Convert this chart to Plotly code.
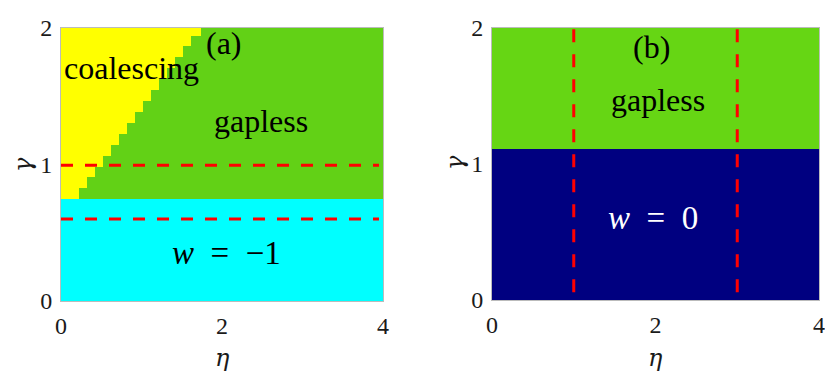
import plotly.graph_objects as go

# ---------------- data ----------------
# panel (a): phase regions
gamma_gap_a = 0.745          # boundary between w=-1 (below) and upper regions
row_height_a = 0.08          # gamma height of each staircase row
boundary_eta_a = [0.22, 0.32, 0.42, 0.52, 0.62, 0.72, 0.82, 0.92,
                  1.02, 1.12, 1.22, 1.32, 1.42, 1.52, 1.62, 1.74]
dash_gamma_a = [0.995, 0.60]
# panel (b)
gamma_gap_b = 1.11
dash_eta_b = [1.0, 3.0]

eta_range = [0, 4]
gamma_range = [0, 2]
x_ticks = [0, 2, 4]
y_ticks = [0, 1, 2]

CYAN, YELLOW, GREEN_A = "#00FFFF", "#FFFF00", "#62D116"
NAVY, GREEN_B = "#000080", "#66D614"
RED = "#FF0000"

# ---------------- build panel (a) grid ----------------
x_edges = [0.0] + boundary_eta_a + [4.0]
y_edges = [0.0, gamma_gap_a]
for i in range(len(boundary_eta_a)):
    y_edges.append(min(2.0, gamma_gap_a + row_height_a * (i + 1)))
z_a = [[0] * (len(x_edges) - 1)]  # cyan row
for be in boundary_eta_a:
    row = []
    for j in range(len(x_edges) - 1):
        xc = 0.5 * (x_edges[j] + x_edges[j + 1])
        row.append(1 if xc < be else 2)
    z_a.append(row)

cs_a = [[0, CYAN], [0.3333, CYAN], [0.3334, YELLOW], [0.6666, YELLOW],
        [0.6667, GREEN_A], [1, GREEN_A]]
cs_b = [[0, NAVY], [0.5, NAVY], [0.5001, GREEN_B], [1, GREEN_B]]

fig = go.Figure()
fig.add_trace(go.Heatmap(x=x_edges, y=y_edges, z=z_a, zmin=0, zmax=2,
                         colorscale=cs_a, showscale=False,
                         xaxis="x", yaxis="y", hoverinfo="skip"))
fig.add_trace(go.Heatmap(x=[0, 4], y=[0, gamma_gap_b, 2], z=[[0], [1]],
                         zmin=0, zmax=1, colorscale=cs_b, showscale=False,
                         xaxis="x2", yaxis="y2", hoverinfo="skip"))

for g in dash_gamma_a:
    fig.add_trace(go.Scatter(x=[0, 3.95], y=[g, g], mode="lines",
                             line=dict(color=RED, width=3, dash="12px,12px"),
                             xaxis="x", yaxis="y", showlegend=False, hoverinfo="skip"))
for e in dash_eta_b:
    fig.add_trace(go.Scatter(x=[e, e], y=[1.99, 0], mode="lines",
                             line=dict(color=RED, width=3, dash="13px,12px"),
                             xaxis="x2", yaxis="y2", showlegend=False, hoverinfo="skip"))

FONT = "Liberation Serif"
GREEK = "DejaVu Serif"
TXT = "#1a1a1a"
ax_common = dict(showgrid=False, zeroline=False, showline=True, linecolor="#BBBBBB",
                 linewidth=1, mirror=True, ticks="", automargin=False,
                 tickfont=dict(family=FONT, size=24, color=TXT))

W, H = 825, 379
def px(x):
    return x / W
def py(y):
    return 1 - y / H

fig.update_layout(
    width=W, height=H, margin=dict(l=0, r=0, t=0, b=0, pad=0),
    paper_bgcolor="white", plot_bgcolor="white", showlegend=False,
    xaxis=dict(domain=[px(61), px(383)], range=eta_range, tickvals=x_ticks,
               ticklabelstandoff=3, anchor="y", **ax_common),
    yaxis=dict(domain=[py(301), py(28)], range=gamma_range, tickvals=y_ticks,
               ticklabelstandoff=3, anchor="x", **ax_common),
    xaxis2=dict(domain=[px(492), px(819)], range=eta_range, tickvals=x_ticks,
                ticklabelstandoff=3, anchor="y2", **ax_common),
    yaxis2=dict(domain=[py(300), py(28)], range=gamma_range, tickvals=y_ticks,
                ticklabelstandoff=3, anchor="x2", **ax_common),
)

def ann(x, y, text, xref, yref, size=32, color="black", angle=0, family=FONT):
    fig.add_annotation(x=x, y=y, xref=xref, yref=yref, text=text, showarrow=False,
                       textangle=angle, xanchor="center", yanchor="middle",
                       font=dict(family=family, size=size, color=color))

# axis titles
ann(px(222), py(358), "<i>η</i>", "paper", "paper", size=24, color=TXT, family=GREEK)
ann(px(655), py(358), "<i>η</i>", "paper", "paper", size=24, color=TXT, family=GREEK)
ann(px(23), py(165), "<i>γ</i>", "paper", "paper", size=24, color=TXT, angle=-90, family=GREEK)
ann(px(455), py(163), "<i>γ</i>", "paper", "paper", size=24, color=TXT, angle=-90, family=GREEK)

# region labels
ann(0.88, 1.71, "coalescing", "x", "y")
ann(2.02, 1.89, "(a)", "x", "y")
ann(2.48, 1.32, "gapless", "x", "y")
ann(2.06, 0.35, "<i>w</i>&nbsp; = &nbsp;−1", "x", "y", size=33)
ann(1.95, 1.86, "(b)", "x2", "y2")
ann(2.03, 1.47, "gapless", "x2", "y2")
ann(1.97, 0.60, "<i>w</i>&nbsp; = &nbsp;0", "x2", "y2", size=33, color="white")

fig.write_html("out.html",
               config={"displayModeBar": False},
               post_script="document.body.style.margin='0px';"
                           "document.body.style.overflow='hidden';")
